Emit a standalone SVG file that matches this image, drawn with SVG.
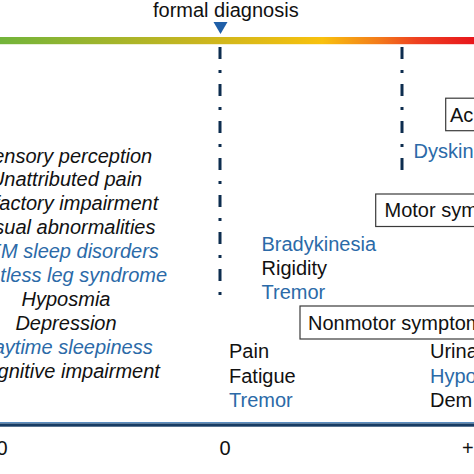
<svg xmlns="http://www.w3.org/2000/svg" width="474" height="474" viewBox="0 0 474 474">
  <defs>
    <linearGradient id="bar" x1="0" y1="0" x2="474" y2="0" gradientUnits="userSpaceOnUse">
      <stop offset="0" stop-color="#72b43a"/>
      <stop offset="0.42" stop-color="#c9b51f"/>
      <stop offset="0.68" stop-color="#f8c10d"/>
      <stop offset="0.80" stop-color="#f37a1b"/>
      <stop offset="0.88" stop-color="#ee4020"/>
      <stop offset="1" stop-color="#e8161c"/>
    </linearGradient>
  </defs>
  <style>
    text { font-family: "Liberation Sans", Arial, sans-serif; font-size: 20px; fill: #111; }
    .it { font-style: italic; }
    .blue { fill: #2b6aa8; }
    .box { fill: #fff; stroke: #3a3a3a; stroke-width: 1.2; }
    .dash { stroke: #0d2d4f; stroke-width: 3; stroke-dasharray: 12 11 3 11; fill: none; }
  </style>
  <rect width="474" height="474" fill="#fff"/>

  <g id="timeline">
    <rect x="0" y="37" width="474" height="7.2" fill="url(#bar)"/>
    <text x="153" y="17">formal diagnosis</text>
    <polygon points="213.5,22 227.5,22 220.5,34" fill="#1f5fa8"/>
  </g>

  <g id="connectors">
    <line class="dash" x1="220" y1="47" x2="220" y2="296"/>
    <line class="dash" x1="402" y1="47" x2="402" y2="171"/>
  </g>

  <g id="prodromal" class="it">
    <text x="152.2" y="162.5" text-anchor="end">ensory perception</text>
    <text x="142.2" y="186.4" text-anchor="end">Unattributed pain</text>
    <text x="158.2" y="210.3" text-anchor="end">factory impairment</text>
    <text x="155.5" y="234.2" text-anchor="end">sual abnormalities</text>
    <text x="158.8" y="258.1" text-anchor="end" class="it blue">EM sleep disorders</text>
    <text x="167.1" y="282" text-anchor="end" class="it blue">tless leg syndrome</text>
    <text x="66" y="305.9" text-anchor="middle">Hyposmia</text>
    <text x="66" y="329.8" text-anchor="middle">Depression</text>
    <text x="152.7" y="353.7" text-anchor="end" class="it blue">aytime sleepiness</text>
    <text x="159.9" y="377.6" text-anchor="end">gnitive impairment</text>
  </g>

  <g id="motor-early">
    <text x="261.5" y="250.7" class="blue">Bradykinesia</text>
    <text x="261.5" y="275">Rigidity</text>
    <text x="261.5" y="299" class="blue">Tremor</text>
  </g>

  <g id="nonmotor-box">
    <rect class="box" x="300" y="306" width="190" height="33"/>
    <text x="308" y="330">Nonmotor symptom</text>
  </g>

  <g id="nonmotor-early">
    <text x="229" y="358.3">Pain</text>
    <text x="229" y="382.5">Fatigue</text>
    <text x="229" y="406.7" class="blue">Tremor</text>
  </g>

  <g id="nonmotor-late">
    <text x="430" y="358.3">Urina</text>
    <text x="430" y="382.5" class="blue">Hypo</text>
    <text x="430" y="406.7">Dem</text>
  </g>

  <g id="motor-box">
    <rect class="box" x="375.7" y="194" width="120" height="32.5"/>
    <text x="384.5" y="216.8">Motor sym</text>
  </g>

  <g id="advanced-box">
    <rect class="box" x="445.7" y="98.2" width="50" height="32.5"/>
    <text x="450" y="122">Ac</text>
  </g>

  <g id="dyskinesia">
    <text x="413.5" y="157.5" class="blue">Dyskin</text>
  </g>

  <g id="axis">
    <rect x="0" y="422" width="474" height="1.5" fill="#5b8dc0"/>
    <rect x="0" y="423.5" width="474" height="3.2" fill="#173c64"/>
    <text x="7.5" y="455" text-anchor="end">0</text>
    <text x="225" y="455" text-anchor="middle">0</text>
    <text x="462" y="455">+</text>
  </g>
</svg>
